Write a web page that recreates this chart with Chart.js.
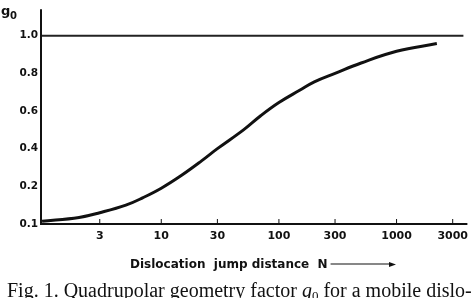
<!DOCTYPE html>
<html>
<head>
<meta charset="utf-8">
<script src="https://cdn.jsdelivr.net/npm/chart.js@4"></script>
<style>
  html, body { margin: 0; padding: 0; background: #fff; }
  #wrap { width: 474px; height: 298px; position: relative; }
</style>
</head>
<body>
<div id="wrap"><canvas id="c"></canvas></div>
<script>
// Data
const jumpDistanceN = [0.97, 2, 3, 5, 7, 10, 15, 22, 30, 50, 70, 100, 150, 200, 300, 500, 1000, 2200];
const g0Values      = [0.014, 0.035, 0.06, 0.10, 0.14, 0.19, 0.26, 0.335, 0.40, 0.50, 0.575, 0.645, 0.71, 0.755, 0.80, 0.855, 0.917, 0.958];
const limitN        = [0.95, 3700];
const limitValues   = [1.0, 1.0];
const xTickValues   = [3, 10, 30, 100, 300, 1000, 3000];
const xTickLabels   = ['3', '10', '30', '100', '300', '1000', '3000'];
const yTickValues   = [0, 0.2, 0.4, 0.6, 0.8, 1.0];
const yTickLabels   = ['0.1', '0.2', '0.4', '0.6', '0.8', '1.0'];
const xTitle  = 'Dislocation  jump distance  N';
const yTitle  = 'g';
const caption = 'Fig. 1. Quadrupolar geometry factor ';

const inwardTicks = {
  id: 'inwardTicks',
  afterDatasetsDraw(chart) {
    const ctx = chart.ctx;
    const xs = chart.scales.x;
    const ys = chart.scales.y;
    ctx.save();
    ctx.strokeStyle = '#111';
    ctx.lineWidth = 1;
    xTickValues.forEach(v => {
      const px = xs.getPixelForValue(v);
      ctx.beginPath();
      ctx.moveTo(px, ys.bottom);
      ctx.lineTo(px, ys.bottom - 5);
      ctx.stroke();
    });
    // axes
    ctx.lineWidth = 2;
    ctx.beginPath();
    ctx.moveTo(xs.left, ys.top);
    ctx.lineTo(xs.left, ys.bottom);
    ctx.lineTo(xs.right, ys.bottom);
    ctx.stroke();
    // y title g0
    ctx.fillStyle = '#111';
    ctx.font = 'bold 13px "DejaVu Sans"';
    ctx.textBaseline = 'alphabetic';
    ctx.textAlign = 'left';
    ctx.fillText(yTitle, 1, 15);
    ctx.font = 'bold 10px "DejaVu Sans"';
    ctx.fillText('0', 10, 19);
    // x title with arrow
    ctx.font = 'bold 12px "DejaVu Sans"';
    ctx.fillText(xTitle, 130, 268);
    const w = ctx.measureText(xTitle).width;
    const ax0 = 130 + w + 3, ax1 = 396;
    ctx.lineWidth = 1.2;
    ctx.beginPath();
    ctx.moveTo(ax0, 264);
    ctx.lineTo(ax1 - 5, 264);
    ctx.stroke();
    ctx.beginPath();
    ctx.moveTo(ax1, 264.5);
    ctx.lineTo(ax1 - 7, 262);
    ctx.lineTo(ax1 - 7, 267);
    ctx.closePath();
    ctx.fill();
    // caption
    const fs = 20;
    ctx.font = fs + 'px "Liberation Serif"';
    ctx.fillText(caption, 7, 297);
    let cx = 7 + ctx.measureText(caption).width;
    ctx.font = 'italic ' + fs + 'px "Liberation Serif"';
    ctx.fillText('g', cx, 297);
    cx += ctx.measureText('g').width;
    ctx.font = '13px "Liberation Serif"';
    ctx.fillText('0', cx, 300);
    cx += ctx.measureText('0').width + 5;
    ctx.font = fs + 'px "Liberation Serif"';
    ctx.fillText('for a mobile dislo-', cx, 297);
    ctx.restore();
  }
};

new Chart(document.getElementById('c'), {
  type: 'line',
  data: {
    datasets: [
      {
        data: jumpDistanceN.map((n, i) => ({ x: n, y: g0Values[i] })),
        borderColor: '#111',
        borderWidth: 3,
        pointRadius: 0,
        tension: 0.4,
        fill: false
      },
      {
        data: limitN.map((n, i) => ({ x: n, y: limitValues[i] })),
        borderColor: '#222',
        borderWidth: 2,
        pointRadius: 0,
        fill: false
      }
    ]
  },
  options: {
    responsive: true,
    maintainAspectRatio: false,
    animation: false,
    layout: { padding: { left: 0, right: 0, top: 0, bottom: 0 } },
    plugins: { legend: { display: false }, tooltip: { enabled: false }, title: { display: false } },
    scales: {
      x: {
        type: 'logarithmic',
        min: 0.95,
        max: 4000,
        afterBuildTicks: s => { s.ticks = xTickValues.map(v => ({ value: v })); },
        afterFit: s => { s.height = 74; },
        border: { display: false },
        grid: { display: false, drawTicks: false },
        ticks: {
          autoSkip: false,
          maxRotation: 0,
          padding: 6,
          color: '#111',
          font: { family: 'DejaVu Sans', size: 11, weight: 'bold' },
          callback: (v) => { const i = xTickValues.indexOf(v); return i >= 0 ? xTickLabels[i] : ''; }
        }
      },
      y: {
        type: 'linear',
        min: 0,
        max: 1.14,
        afterBuildTicks: s => { s.ticks = yTickValues.map(v => ({ value: v })); },
        afterFit: s => { s.width = 41; },
        border: { display: false },
        grid: { display: false, drawTicks: false },
        ticks: {
          padding: 3,
          color: '#111',
          font: { family: 'DejaVu Sans', size: 10.5, weight: 'bold' },
          callback: (v) => { const i = yTickValues.indexOf(v); return i >= 0 ? yTickLabels[i] : ''; }
        }
      }
    }
  },
  plugins: [inwardTicks]
});
</script>
</body>
</html>
